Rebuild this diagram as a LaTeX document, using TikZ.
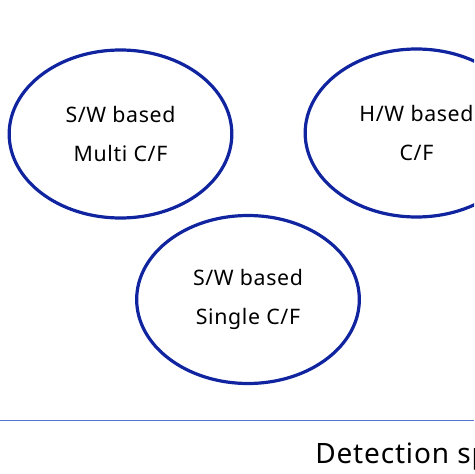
\documentclass[tikz,border=0pt]{standalone}
\usepackage{fontspec}
\setmainfont{Noto Sans}[LetterSpace=3]
\usetikzlibrary{shapes.geometric}
\definecolor{ellblue}{RGB}{16,36,160}
\definecolor{lineblue}{RGB}{80,120,210}
\tikzset{
  cf/.style={ellipse, draw=ellblue, line width=2.4pt, minimum width=167pt, minimum height=126pt,
    align=center, font=\fontsize{16pt}{29pt}\selectfont, inner sep=0pt},
}
\begin{document}
\begin{tikzpicture}[x=0.75pt,y=-0.75pt]
\useasboundingbox (0,0) rectangle (474,474);
\clip (0,0) rectangle (474,474);
\node[cf] (multi) at (120.5,134) {S/W based\\Multi C/F};
\node[cf] (hw) at (416.5,133) {H/W based\\C/F};
\node[cf] (single) at (248,299.5) {S/W based\\Single C/F};
\coordinate (axl) at (0,420.5);
\coordinate (axr) at (474,420.5);
\draw[lineblue, line width=0.9pt] (axl) -- (axr);
\node[anchor=base west, font=\fontsize{21pt}{24pt}\selectfont, inner sep=0pt] (det) at (315,463) {Detection speed};
\end{tikzpicture}
\end{document}
